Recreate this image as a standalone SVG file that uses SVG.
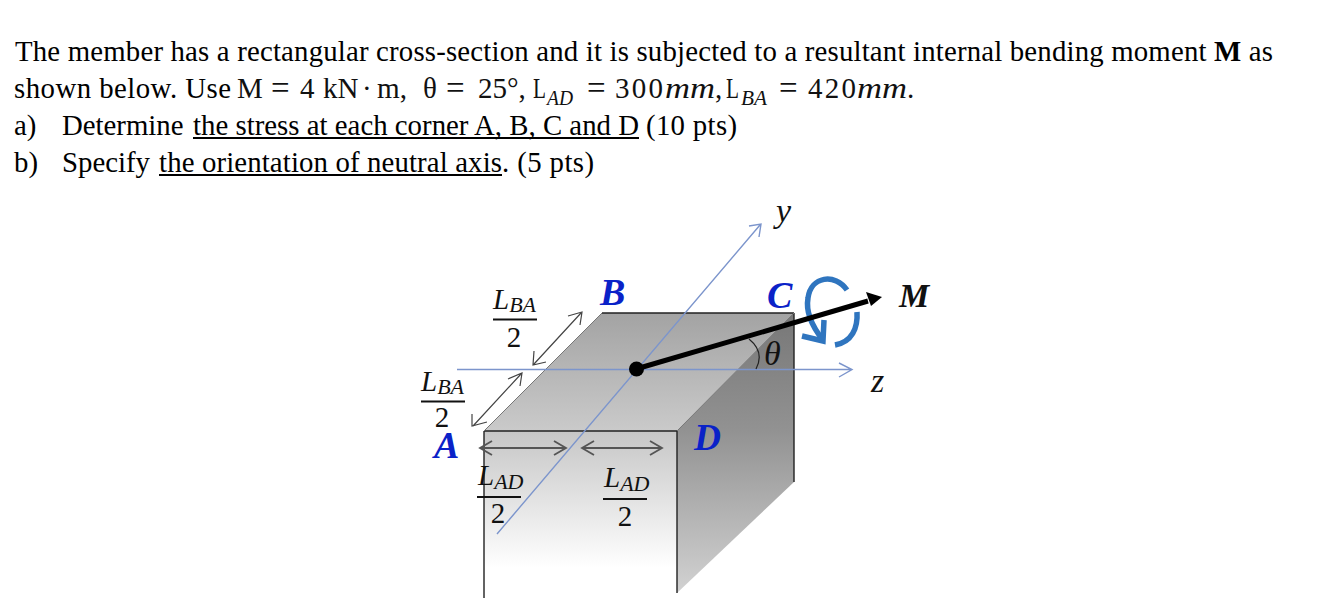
<svg xmlns="http://www.w3.org/2000/svg" width="1334" height="616" viewBox="0 0 1334 616">
<style>
.t{font-family:"Liberation Serif","Times New Roman",serif;font-size:28.8px;fill:#000}
.m{font-family:"Liberation Serif",serif;font-size:29px;fill:#111}
.e{font-family:"Liberation Serif",serif;font-size:33px;fill:#111}
.s{font-family:"Liberation Serif",serif;font-size:21px;font-style:italic;fill:#111}
.i{font-style:italic}
.lab{font-family:"Liberation Serif",serif;font-style:italic;font-weight:bold;fill:#0a22c8;font-size:38px}
.f{font-family:"Liberation Serif",serif;fill:#111;font-size:29px;text-anchor:middle}
.fi{font-family:"Liberation Serif",serif;font-style:italic;fill:#111;font-size:34px}
.fl{font-family:"Liberation Serif",serif;font-style:italic;fill:#111;font-size:29px}
.fl tspan{font-size:22px}
.u{stroke:#000;stroke-width:2;fill:none}
.bar{stroke:#111;stroke-width:2}
.ax{stroke:#7c95cc;stroke-width:1.4;fill:none}
.dim{stroke:#444;stroke-width:1.2;fill:none}
.dimf{stroke:#555;stroke-width:1.8;fill:none}
.edge{stroke:#222;stroke-width:1.4;fill:none}
.rot{stroke:#2f75bf;stroke-width:5.500;fill:none}
</style>
<defs>
<linearGradient id="top" x1="0" y1="0" x2="0" y2="1"><stop offset="0" stop-color="#a3a3a3"/><stop offset="1" stop-color="#cacaca"/></linearGradient>
<linearGradient id="front" gradientUnits="userSpaceOnUse" x1="0" y1="431" x2="0" y2="568"><stop offset="0" stop-color="#c6c6c6"/><stop offset="1" stop-color="#fff"/></linearGradient>
<linearGradient id="side" gradientUnits="userSpaceOnUse" x1="0" y1="313" x2="0" y2="593"><stop offset="0" stop-color="#777"/><stop offset=".42" stop-color="#929292"/><stop offset="1" stop-color="#d2d2d2"/></linearGradient>
</defs>
<rect width="1334" height="616" fill="#fff"/>

<g id="problem-text">
<text class="t" x="15" y="61" textLength="1258" lengthAdjust="spacing">The member has a rectangular cross-section and it is subjected to a resultant internal bending moment <tspan font-weight="bold">M</tspan> as</text>
<text class="t" x="14" y="98" textLength="217">shown below. Use</text>
<text class="m" x="237" y="98">M</text>
<text class="e" x="271" y="99">=</text>
<text class="m" x="300" y="98">4</text>
<text class="m" x="323" y="98">kN</text>
<text class="m" x="362" y="98">·</text>
<text class="m" x="377" y="98" textLength="30" lengthAdjust="spacingAndGlyphs">m,</text>
<text class="m" x="423" y="98">θ</text>
<text class="e" x="446" y="99">=</text>
<text class="m" x="478" y="98">25°,</text>
<text class="m" x="533" y="98" textLength="13" lengthAdjust="spacingAndGlyphs">L</text>
<text class="s" x="547" y="105" textLength="26" lengthAdjust="spacingAndGlyphs">AD</text>
<text class="e" x="587" y="99">=</text>
<text class="m" x="615" y="98" textLength="48">300</text>
<text class="m i" x="665" y="98" textLength="50" lengthAdjust="spacingAndGlyphs">mm</text>
<text class="m" x="715" y="98">,</text>
<text class="m" x="726" y="98" textLength="13" lengthAdjust="spacingAndGlyphs">L</text>
<text class="s" x="741" y="105" textLength="26" lengthAdjust="spacingAndGlyphs">BA</text>
<text class="e" x="779" y="99">=</text>
<text class="m" x="808" y="98" textLength="48">420</text>
<text class="m i" x="857" y="98" textLength="50" lengthAdjust="spacingAndGlyphs">mm</text>
<text class="m" x="907" y="98">.</text>
<text class="t" x="14" y="135">a)</text>
<text class="t" x="62" y="135">Determine</text>
<text class="t" x="193" y="135" textLength="446">the stress at each corner A, B, C and D</text>
<text class="t" x="646" y="135" textLength="91">(10 pts)</text>
<line class="u" x1="193" y1="138" x2="639" y2="138"/>
<text class="t" x="14" y="172">b)</text>
<text class="t" x="62" y="172">Specify</text>
<text class="t" x="159" y="172" textLength="343">the orientation of neutral axis</text>
<text class="t" x="502" y="172" textLength="92">. (5 pts)</text>
<line class="u" x1="159" y1="175" x2="502" y2="175"/>
</g>

<g id="member">
<polygon points="602,313 794,313 677,431 484,431" fill="url(#top)"/>
<polygon points="484,431 677,431 677,598 484,598" fill="url(#front)"/>
<polygon points="677,431 794,313 794,482 677,593" fill="url(#side)"/>
<path class="edge" d="M602,313 H794 M484,431 H677 M484,431 V598 M677,431 V593 M794,313 V482"/>
<path d="M484,431 L602,313 M677,431 L794,313" stroke="#777" stroke-width="1" fill="none"/>
</g>

<g id="connectors">
<g id="axis-z"><path class="ax" d="M457,369.500 H851 M839,363 L852,369.500 L839,377"/></g>
<g id="axis-y"><path class="ax" d="M497,534 L760,225 M749,226 L761,224 L759,237"/></g>
<g id="dim-ba-upper"><path class="dim" d="M534,364 L581,313 M568,316 L582,312 L580,325 M534,351 L533,365 L546,362"/></g>
<g id="dim-ba-lower"><path class="dim" d="M473,426 L521,374 M508,379 L522,373 L520,386 M472,414 L472,426 L487,422"/></g>
<g id="dim-ad-left"><path class="dimf" d="M480,448 H566 M492,441 L480,448 L492,455 M554,441 L566,448 L554,455"/></g>
<g id="dim-ad-right"><path class="dimf" d="M582,448 H662 M594,441 L582,448 L594,455 M650,441 L662,448 L650,455"/></g>
<g id="angle-arc"><path d="M749,339 Q765,352 756,369" stroke="#222" stroke-width="1.2" fill="none"/></g>
<g id="moment-rotation">
<path class="rot" d="M847,290 C835,273 811,276 808,298 C805,315 815,330 823,340"/>
<path class="rot" d="M802,336 L823,341 L824,320"/>
<path class="rot" d="M857,312 C858,328 852,342 835,345"/>
</g>
<g id="moment-vector">
<line x1="636" y1="369" x2="868" y2="301" stroke="#000" stroke-width="5"/>
<path d="M866,292 L882,297 L871,306 Z" fill="#000"/>
<circle cx="636.500" cy="369" r="7.500" fill="#000"/>
</g>
</g>

<g id="label-A"><text class="lab" x="434" y="458">A</text></g>
<g id="label-B"><text class="lab" x="600" y="305">B</text></g>
<g id="label-C"><text class="lab" x="767" y="308" font-size="34">C</text></g>
<g id="label-D"><text class="lab" x="694" y="450" textLength="27" lengthAdjust="spacingAndGlyphs">D</text></g>
<g id="label-M"><text class="fi" x="899" y="307" font-weight="bold" font-size="36">M</text></g>
<g id="label-y"><text class="fi" x="776" y="222" font-size="38">y</text></g>
<g id="label-z"><text class="fi" x="871" y="392" font-size="36">z</text></g>
<g id="label-theta"><text class="fi" x="764" y="365" font-size="32">θ</text></g>

<g id="frac-ba-upper">
<text class="fl" x="493" y="309">L<tspan dy="3">BA</tspan></text>
<line class="bar" x1="493" y1="319.500" x2="537" y2="319.500"/>
<text class="f" x="514" y="347">2</text>
</g>
<g id="frac-ba-lower">
<text class="fl" x="421" y="391">L<tspan dy="3">BA</tspan></text>
<line class="bar" x1="421" y1="401.500" x2="465" y2="401.500"/>
<text class="f" x="442" y="427" font-size="27">2</text>
</g>
<g id="frac-ad-left">
<text class="fl" x="478" y="485">L<tspan dy="4">AD</tspan></text>
<line class="bar" x1="477" y1="497" x2="521" y2="497"/>
<text class="f" x="498" y="523">2</text>
</g>
<g id="frac-ad-right">
<text class="fl" x="604" y="487">L<tspan dy="4">AD</tspan></text>
<line class="bar" x1="603" y1="499" x2="647" y2="499"/>
<text class="f" x="625" y="526">2</text>
</g>
</svg>
